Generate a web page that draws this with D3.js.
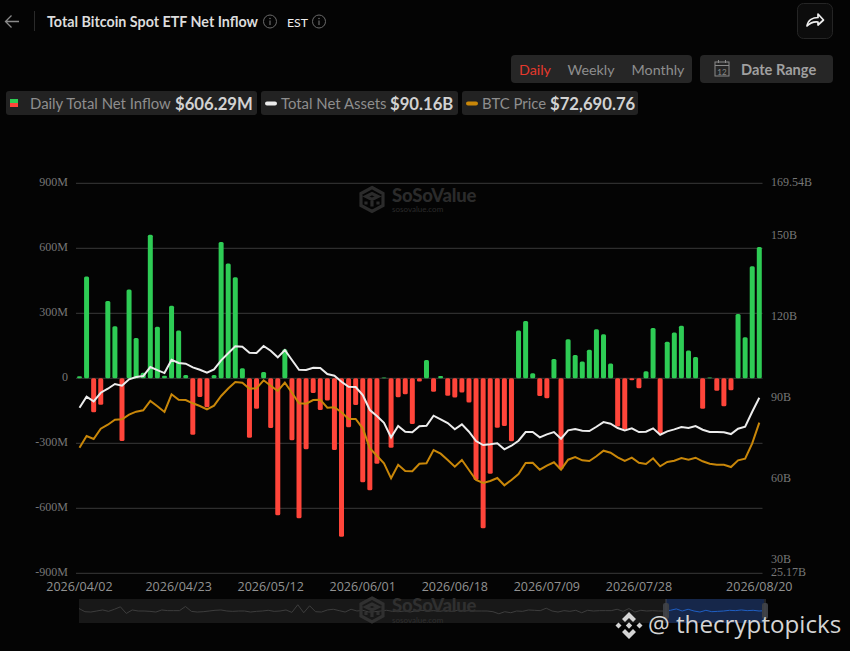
<!DOCTYPE html>
<html>
<head>
<meta charset="utf-8">
<style>
  html, body { margin: 0; padding: 0; background: #040404; overflow: hidden; }
  text { font-family: Lato, sans-serif; }
</style>
<script src="https://cdn.jsdelivr.net/npm/d3@7"></script>
</head>
<body>
<div id="chart"></div>
<script>
// Data
const holidays = ["2026-04-03", "2026-05-25", "2026-06-19", "2026-07-03"];
const dateTicks = ["2026/04/02", "2026/04/23", "2026/05/12", "2026/06/01", "2026/06/18", "2026/07/09", "2026/07/28", "2026/08/20"];
const flowTicks = [900, 600, 300, 0, -300, -600, -900];
const assetTicks = [169.54, 150, 120, 90, 60, 30, 25.17];

// Daily net inflow, $M
const netInflow = [
  10, 470, -157, -122, 357, 240, -289, 410, 186, 26,
  663, 238, 12, 335, 221, 15, -260, -86, -134, 15,
  629, 530, 466, 46, -274, -141, 29, -229, -632, 134,
  -286, -646, -328, -68, -146, -103, -331, -731, -226, -123,
  -480, -517, -394, 4, -321, -88, -74, -211, -15, 85,
  -62, 11, -80, -89, -66, -112, -469, -692, -441, -228,
  -220, -291, 221, 265, 23, -82, -92, 89, -420, 180,
  108, 78, 132, 226, 203, 68, -223, -235, -9, -46,
  32, 232, -255, 169, 211, 243, 128, 98, -141, 4,
  -58, -129, -55, 297, 189, 517, 606.29
];

// Total net assets, $B
const netAssets = [
  86.46, 90.53, 88.83, 92.01, 93.49, 95.23, 94.6, 96.97, 97.82, 98.19,
  101.53, 100.41, 99.3, 104.23, 103.01, 102.75, 101.41, 100.53, 99.42, 100.67,
  104.01, 106.6, 109.19, 109.04, 106.82, 106.71, 109.3, 107.56, 105.12, 107.82,
  104.12, 100.53, 100.41, 101.27, 101.16, 98.93, 98.3, 96.08, 94.23, 94.12,
  91.16, 85.61, 83.39, 80.9, 75.5, 79.68, 77.57, 77.35, 79.57, 79.79,
  83.5, 82.16, 80.79, 78.46, 80.31, 77.57, 74.13, 72.65, 72.91, 73.28,
  71.06, 72.39, 74.24, 77.46, 77.46, 75.5, 76.61, 77.46, 74.98, 78.09,
  78.57, 77.94, 77.83, 79.42, 81.16, 80.53, 78.94, 78.09, 78.83, 77.46,
  77.57, 78.83, 76.46, 77.72, 78.46, 79.31, 78.94, 79.68, 78.31, 77.46,
  77.46, 77.35, 76.72, 78.68, 79.42, 84.98, 90.16
];

// BTC price, $
const btcPrice = [
  64773, 68479, 67529, 70791, 72058, 73641, 73768, 75225, 76175, 76618,
  79563, 77885, 76080, 81685, 79975, 79880, 78835, 77980, 76935, 78075,
  81147, 83522, 85581, 85359, 83459, 83585, 86119, 84409, 82730, 85359,
  82192, 78835, 78708, 79880, 79975, 77442, 77568, 75985, 73863, 73863,
  70917, 64583, 62240, 59833, 55082, 59358, 57394, 57299, 59706, 59833,
  64045, 62873, 60878, 58756, 60878, 57711, 54544, 53594, 54227, 55177,
  52866, 54544, 56444, 59928, 60023, 57806, 59073, 60150, 57806, 60973,
  61828, 60783, 60561, 62050, 63823, 63190, 61733, 60561, 61606, 60023,
  59611, 61416, 58883, 60245, 60656, 61511, 60973, 61606, 60466, 59706,
  59390, 59390, 58661, 60783, 61290, 66167, 72690.76
];

// Overview strip under the chart, relative height
const overview = [
  7, -2, -3, 0, 3, -1, 5, 12, -7, 3, 0, 0, -1, -3, 3, 1, 1, 1, 13, -1,
  -3, -2, 0, 2, 3, 0, -1, 0, 0, -3, -1, 0, 2, -1, 0, 3, -4, 18, -5, 15,
  -2, -3, 3, 5, 1, -3, 5, 0, 2, -3, -2, 0, 2, -1, -2, 0, -3, 1, 2, 0,
  1, -1, 2, -1, 2, 0, 1, 0, 0, 0, -2, -8, -2, -5, 0, -1, 3, 2, 1, 8,
  0, -3, 1, -1, 2, -5, 2, 0, 1, 1, 1, 5, -1, 7, -3, 2, 0, 1, 0, 0,
  2, 6, 0, 5, 0, -3, 2, -2, -1, 0, 2, 1, 3, 1, 2, 0, 1
];

// Dimensions
const dimensions = {
  width: 850,
  height: 651,
  top: 183.3,
  bottom: 573.3,
  left: 76,
  right: 762.5,
  firstBar: 79.5,
  lastBar: 759.3,
};

const dates = d3.utcDay
  .range(new Date("2026-04-02"), new Date("2026-08-21"))
  .filter((d) => d.getUTCDay() % 6 !== 0)
  .map((d) => d.toISOString().slice(0, 10))
  .filter((d) => !holidays.includes(d))
  .map((d) => d.replaceAll("-", "/"));

const svg = d3
  .select("#chart")
  .append("svg")
  .attr("width", dimensions.width)
  .attr("height", dimensions.height)
  .style("display", "block");

// Scales
const xScale = d3.scalePoint().domain(dates).range([dimensions.firstBar, dimensions.lastBar]);
const yFlow = d3.scaleLinear().domain([-900, 900]).range([dimensions.bottom, dimensions.top]);
const yAssets = d3.scaleLinear().domain([25.17, 169.54]).range([dimensions.bottom, dimensions.top]);
const yPrice = d3.scaleLinear().domain([25000, 148500]).range([dimensions.bottom, dimensions.top]);

// Grid
svg
  .append("g")
  .selectAll("line")
  .data(flowTicks)
  .join("line")
  .attr("x1", dimensions.left)
  .attr("x2", dimensions.right)
  .attr("y1", (d) => yFlow(d))
  .attr("y2", (d) => yFlow(d))
  .attr("stroke", "#3a3a3a")
  .attr("stroke-width", 1);

// Watermark
function watermark(x, y, color) {
  const g = svg
    .append("g")
    .attr("transform", `translate(${x}, ${y})`)
    .attr("fill", "none")
    .attr("stroke", color);
  g.append("path")
    .attr("d", "M0,-12 L11,-6 L11,6 L0,12 L-11,6 L-11,-6 Z M-6,-3 L0,-6 L6,-3 L0,0 Z M0,0 L0,7 M-6,2 L-6,5 M6,2 L6,5")
    .attr("stroke-width", 3.2);
  g.append("text")
    .attr("x", 20)
    .attr("y", 2)
    .attr("fill", color)
    .attr("stroke", "none")
    .attr("font-size", 18.5)
    .attr("font-weight", 900)
    .attr("letter-spacing", -0.2)
    .text("SoSoValue");
  g.append("text")
    .attr("x", 20)
    .attr("y", 12.5)
    .attr("fill", color)
    .attr("stroke", "none")
    .attr("font-size", 8)
    .text("sosovalue.com");
}
watermark(372, 199.5, "#2b2b2b");

// Bars
svg
  .append("g")
  .selectAll("rect")
  .data(netInflow)
  .join("rect")
  .attr("x", (d, i) => xScale(dates[i]) - 2.5)
  .attr("width", 5)
  .attr("y", (d) => Math.min(yFlow(d), yFlow(0)))
  .attr("height", (d) => Math.abs(yFlow(d) - yFlow(0)))
  .attr("rx", 1.5)
  .attr("fill", (d) => (d >= 0 ? "#2ecc55" : "#ff453a"));

// Lines
const assetLine = d3
  .line()
  .x((d, i) => xScale(dates[i]))
  .y((d) => yAssets(d));
const priceLine = d3
  .line()
  .x((d, i) => xScale(dates[i]))
  .y((d) => yPrice(d));

svg
  .append("path")
  .datum(btcPrice)
  .attr("d", priceLine)
  .attr("fill", "none")
  .attr("stroke", "#c98709")
  .attr("stroke-width", 2);

svg
  .append("path")
  .datum(netAssets)
  .attr("d", assetLine)
  .attr("fill", "none")
  .attr("stroke", "#ececec")
  .attr("stroke-width", 2);

// Axes
const flowLabel = (d) => (d === 0 ? "0" : `${d}M`);
const leftAxis = d3.axisLeft(yFlow).tickValues(flowTicks).tickFormat(flowLabel).tickSize(0).tickPadding(8);
const rightAxis = d3.axisRight(yAssets).tickValues(assetTicks).tickFormat((d) => `${d}B`).tickSize(0).tickPadding(8);

const leftGroup = svg.append("g").attr("transform", "translate(76, -1.5)").call(leftAxis);
const rightGroup = svg.append("g").attr("transform", "translate(763, -1.5)").call(rightAxis);
[leftGroup, rightGroup].forEach((g) => {
  g.select(".domain").remove();
  g.selectAll("text").attr("fill", "#777777").attr("font-size", 12).style("font-family", '"Liberation Serif", serif');
});

svg
  .append("g")
  .selectAll("text")
  .data(dateTicks)
  .join("text")
  .attr("x", (d) => xScale(d))
  .attr("y", 591)
  .attr("text-anchor", "middle")
  .attr("fill", "#929292")
  .attr("font-size", 12.5)
  .style("font-family", '"Open Sans", sans-serif')
  .text((d) => d);

// Overview strip
const stripX = d3.scaleLinear().domain([0, overview.length - 1]).range([79, 765]);
const stripY = d3.scaleLinear().domain([-33, 33]).range([622.5, 599.5]);
const stripLine = d3
  .line()
  .x((d, i) => stripX(i))
  .y((d) => stripY(d));

svg.append("rect").attr("x", 79).attr("y", 599).attr("width", 587).attr("height", 24).attr("fill", "#181818");
svg.append("rect").attr("x", 666).attr("y", 599).attr("width", 98).attr("height", 24).attr("fill", "#16274a");
svg.append("clipPath").attr("id", "selected").append("rect").attr("x", 666).attr("y", 599).attr("width", 98).attr("height", 24);
svg.append("clipPath").attr("id", "unselected").append("rect").attr("x", 79).attr("y", 599).attr("width", 587).attr("height", 24);

svg
  .append("path")
  .datum(overview)
  .attr("d", stripLine)
  .attr("fill", "none")
  .attr("stroke", "#3d3d3d")
  .attr("clip-path", "url(#unselected)");
svg
  .append("path")
  .datum(overview)
  .attr("d", stripLine)
  .attr("fill", "none")
  .attr("stroke", "#1f5fc4")
  .attr("clip-path", "url(#selected)");

[666, 765].forEach((x) => {
  svg.append("rect").attr("x", x - 3).attr("y", 603).attr("width", 6).attr("height", 16).attr("rx", 2).attr("fill", "#3c3f44");
  svg.append("line").attr("x1", x).attr("x2", x).attr("y1", 599).attr("y2", 623).attr("stroke", "#44474c");
});
watermark(372, 610, "#303030");

// Header
const grey = "#8e8e8e";

svg.append("path").attr("d", "M19,21.5 H6 M11.5,15.5 L5.5,21.5 L11.5,27.5").attr("fill", "none").attr("stroke", "#8a8a8a").attr("stroke-width", 1.3);
svg.append("line").attr("x1", 34.5).attr("x2", 34.5).attr("y1", 11).attr("y2", 31).attr("stroke", "#2a2a2a");

svg
  .append("text")
  .attr("x", 47)
  .attr("y", 27)
  .attr("fill", "#dcdcdc")
  .attr("font-size", 14.3)
  .attr("font-weight", 700)
  .text("Total Bitcoin Spot ETF Net Inflow");

svg.append("text").attr("x", 287).attr("y", 26.5).attr("fill", "#eeeeee").attr("font-size", 12.3).text("EST");

[270, 319].forEach((x) => {
  const info = svg.append("g").attr("transform", `translate(${x}, 21.5)`);
  info.append("circle").attr("r", 6.5).attr("fill", "none").attr("stroke", "#6a6a6a").attr("stroke-width", 1);
  info.append("line").attr("y1", -1).attr("y2", 3.5).attr("stroke", "#6a6a6a").attr("stroke-width", 1.2);
  info.append("circle").attr("cy", -3).attr("r", 0.8).attr("fill", "#6a6a6a");
});

// Share button
svg.append("rect").attr("x", 797.5).attr("y", 3.5).attr("width", 35).attr("height", 35).attr("rx", 6).attr("fill", "#0c0c0c").attr("stroke", "#252525");
svg
  .append("path")
  .attr("d", "M807,26 C808,20 813,17.5 818,17.5 L818,14 L823.5,20 L818,25 L818,22 C814,21.5 810,23 807,26 Z")
  .attr("fill", "none")
  .attr("stroke", "#eeeeee")
  .attr("stroke-width", 1.7)
  .attr("stroke-linejoin", "round");

// Period tabs
svg.append("rect").attr("x", 511).attr("y", 55).attr("width", 181).attr("height", 28).attr("rx", 4).attr("fill", "#262626");
svg.append("rect").attr("x", 700).attr("y", 55).attr("width", 133).attr("height", 28).attr("rx", 4).attr("fill", "#262626");

const periods = ["Daily", "Weekly", "Monthly"];
const periodX = [519, 567.5, 631.5];
svg
  .append("g")
  .selectAll("text")
  .data(periods)
  .join("text")
  .attr("x", (d, i) => periodX[i])
  .attr("y", 75)
  .attr("font-size", 14.3)
  .attr("fill", (d) => (d === "Daily" ? "#e5392d" : grey))
  .text((d) => d);

svg.append("text").attr("x", 741).attr("y", 75).attr("font-size", 14.6).attr("font-weight", 700).attr("fill", "#a0a0a0").text("Date Range");

const calendar = svg.append("g").attr("fill", "none").attr("stroke", "#8a8a8a");
calendar.append("rect").attr("x", 715).attr("y", 62).attr("width", 14).attr("height", 14);
calendar.append("path").attr("d", "M715,65.5 H729 M718.5,60 V63 M725.5,60 V63");
svg.append("text").attr("x", 722).attr("y", 74.5).attr("text-anchor", "middle").attr("font-size", 8).attr("fill", "#8a8a8a").text("12");

// Legend chips
const chipX = [6, 261, 462];
const chipW = [251, 197, 176];
const chipLabels = ["Daily Total Net Inflow", "Total Net Assets", "BTC Price"];
const chipLabelX = [30, 281, 482];
const chipValues = ["$606.29M", "$90.16B", "$72,690.76"];
const chipValueX = [175, 390, 550];

chipLabels.forEach((label, i) => {
  svg.append("rect").attr("x", chipX[i]).attr("y", 91).attr("width", chipW[i]).attr("height", 24).attr("rx", 3).attr("fill", "#222222");
  svg.append("text").attr("x", chipLabelX[i]).attr("y", 109).attr("font-size", 14.9).attr("fill", grey).text(label);
  svg.append("text").attr("x", chipValueX[i]).attr("y", 110).attr("font-size", 16.7).attr("font-weight", 700).attr("fill", "#d2d2d2").text(chipValues[i]);
});

svg.append("rect").attr("x", 10).attr("y", 99).attr("width", 8).attr("height", 4).attr("fill", "#2ecc55");
svg.append("rect").attr("x", 10).attr("y", 103).attr("width", 8).attr("height", 4).attr("fill", "#ff453a");
svg.append("rect").attr("x", 265).attr("y", 101.5).attr("width", 12).attr("height", 4).attr("rx", 2).attr("fill", "#ececec");
svg.append("rect").attr("x", 466).attr("y", 101.5).attr("width", 12).attr("height", 4).attr("rx", 2).attr("fill", "#c98709");

// Creator tag
const tag = svg.append("g").attr("transform", "translate(629, 625.5)").attr("fill", "#d4d4d4");
tag.append("path").attr("d", "M0,-13.5 L7,-6.5 L4,-3.5 L0,-7.5 L-4,-3.5 L-7,-6.5 Z");
tag.append("path").attr("d", "M0,13.5 L7,6.5 L4,3.5 L0,7.5 L-4,3.5 L-7,6.5 Z");
tag.append("path").attr("d", "M0,-3.2 L3.2,0 L0,3.2 L-3.2,0 Z");
tag.append("path").attr("d", "M-10.5,-3 L-7.5,0 L-10.5,3 L-13.5,0 Z");
tag.append("path").attr("d", "M10.5,-3 L13.5,0 L10.5,3 L7.5,0 Z");

svg
  .append("text")
  .attr("x", 648)
  .attr("y", 633)
  .attr("font-size", 24.2)
  .attr("fill", "#d4d4d4")
  .style("font-family", '"Open Sans", sans-serif')
  .text("@ thecryptopicks");
</script>
</body>
</html>
